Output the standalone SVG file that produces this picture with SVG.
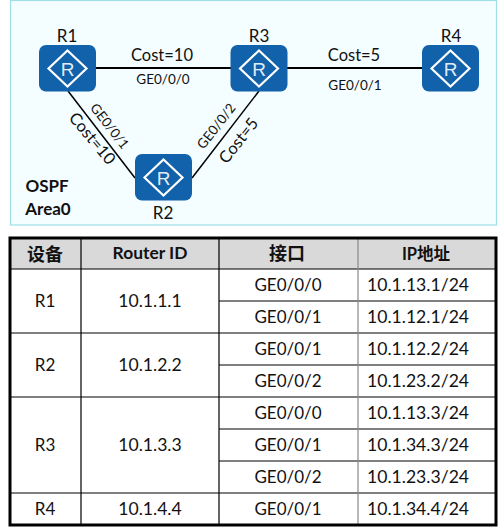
<svg xmlns="http://www.w3.org/2000/svg" width="499" height="532" viewBox="0 0 499 532">
<style>
text{font-family:Lato,"Noto Sans CJK SC",sans-serif;fill:#111}
.m{text-anchor:middle}
.n{font-size:17px}
.c{font-size:16.500px}
.g{font-size:13.500px}
.t{font-size:17px}
.d{font-size:17.600px}
.h{font-size:17.400px;font-weight:700}
.b{font-size:17px;font-weight:700}
.lk{stroke:#000;fill:none}
.gl{stroke:#000;stroke-width:1.200}
.gg{stroke:#888;stroke-width:1.200}
.rb{fill:#1162aa}
.rd{fill:none;stroke:#fff;stroke-width:2.200}
.rt{font-family:"Liberation Sans",sans-serif;font-size:19px;fill:#fff;fill-opacity:.9;text-anchor:middle}
</style>
<defs>
<g id="router">
<rect class="rb" x="-28.500" y="-23.500" width="57" height="46.500" rx="7"/>
<path class="rd" d="M0-18L19 0L0 18L-19 0Z"/>
<text class="rt" x="0" y="7">R</text>
</g>
</defs>
<rect x="10.500" y="0.500" width="486" height="224.500" fill="#f4fdff" stroke="#9fe0e6" stroke-width="1.200"/>
<g id="connectors">
<path class="lk" stroke-width="2" d="M96 68H231"/>
<path class="lk" stroke-width="2" d="M287 68H422"/>
<path class="lk" stroke-width="1.500" d="M68 91L135 178"/>
<path class="lk" stroke-width="1.500" d="M192 178L259 91"/>
</g>
<g id="R1"><use href="#router" x="67.500" y="68.500"/><text class="n m" x="67" y="42">R1</text></g>
<g id="R2"><use href="#router" x="163.500" y="177.500"/><text class="n m" x="163" y="219">R2</text></g>
<g id="R3"><use href="#router" x="259" y="68.500"/><text class="n m" x="259" y="42">R3</text></g>
<g id="R4"><use href="#router" x="450.500" y="68.500"/><text class="n m" x="451" y="42">R4</text></g>
<g id="labels">
<text class="c m" x="162" y="61">Cost=10</text>
<text class="g m" x="163" y="84">GE0/0/0</text>
<text class="c m" x="354" y="61">Cost=5</text>
<text class="g m" x="355" y="90">GE0/0/1</text>
<text class="g m" transform="translate(106 129) rotate(52)">GE0/0/1</text>
<text class="c m" transform="translate(88 142) rotate(50)">Cost=10</text>
<text class="g m" transform="translate(220 129) rotate(-52)">GE0/0/2</text>
<text class="c m" transform="translate(243 144) rotate(-52)">Cost=5</text>
<text class="b m" x="47" y="192">OSPF</text>
<text class="b m" x="48" y="215">Area0</text>
</g>
<g id="table">
<rect x="10" y="238" width="486" height="31" fill="#d9d9d9"/>
<path class="gl" d="M10 269H496M10 333H496M10 397H496M10 493H496M219 301H496M219 365H496M219 429H496M219 461H496"/>
<path class="gl" d="M81 238V525M219 238V525"/>
<path class="gg" d="M358 238V525"/>
<rect x="10" y="238" width="486" height="287" fill="none" stroke="#000" stroke-width="3"/>
<text class="h m" x="45" y="261" style="font-size:18px">设备</text>
<text class="h m" x="150" y="259">Router ID</text>
<text class="h m" x="287" y="260" style="font-size:18px">接口</text>
<text class="h m" x="426" y="260" style="font-size:16.500px">IP地址</text>
<text class="t m" x="45" y="307">R1</text><text class="d m" x="150" y="307">10.1.1.1</text>
<text class="t m" x="45" y="371">R2</text><text class="d m" x="150" y="371">10.1.2.2</text>
<text class="t m" x="45" y="451">R3</text><text class="d m" x="150" y="451">10.1.3.3</text>
<text class="t m" x="45" y="515">R4</text><text class="d m" x="150" y="515">10.1.4.4</text>
<text class="t m" x="288" y="291">GE0/0/0</text><text class="d" x="367" y="291">10.1.13.1/24</text>
<text class="t m" x="288" y="323">GE0/0/1</text><text class="d" x="367" y="323">10.1.12.1/24</text>
<text class="t m" x="288" y="355">GE0/0/1</text><text class="d" x="367" y="355">10.1.12.2/24</text>
<text class="t m" x="288" y="387">GE0/0/2</text><text class="d" x="367" y="387">10.1.23.2/24</text>
<text class="t m" x="288" y="419">GE0/0/0</text><text class="d" x="367" y="419">10.1.13.3/24</text>
<text class="t m" x="288" y="451">GE0/0/1</text><text class="d" x="367" y="451">10.1.34.3/24</text>
<text class="t m" x="288" y="483">GE0/0/2</text><text class="d" x="367" y="483">10.1.23.3/24</text>
<text class="t m" x="288" y="515">GE0/0/1</text><text class="d" x="367" y="515">10.1.34.4/24</text>
</g>
</svg>
